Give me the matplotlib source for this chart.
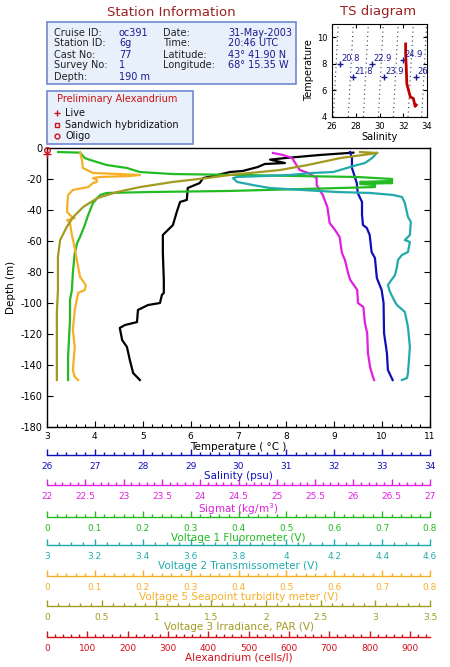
import matplotlib.pyplot as plt
from matplotlib.patches import Rectangle
from matplotlib.ticker import MultipleLocator
import numpy as np

plt.rcParams['font.family'] = ['DejaVu Sans']

W, H = 450, 667

# ---- profile data (depth in m, value in axis units) ----
temp_depth = [-3.0, -4.5, -6.5, -7.5, -9.7, -10.3, -12.3, -14.8, -15.5, -18.1, -19.4, -22.6,
              -25.8, -33.5, -34.8, -41.3, -49.7, -56.1, -67.7, -85.2, -93.5, -94.8, -100.0,
              -101.3, -104.5, -112.3, -114.2, -116.1, -123.9, -128.4, -136.8, -145.2, -149.7]
temp = [9.40, 8.70, 7.97, 7.66, 7.97, 7.55, 7.40, 7.09, 6.82, 6.47, 6.26, 6.19,
        5.94, 5.92, 5.78, 5.71, 5.63, 5.42, 5.42, 5.44, 5.44, 5.40, 5.36,
        5.11, 4.90, 4.88, 4.63, 4.52, 4.57, 4.67, 4.73, 4.80, 4.94]

sal_depth = [-2.6, -6.5, -12.9, -18.7, -22.6, -29.0, -34.8, -43.2, -49.7, -51.6, -56.1,
             -67.1, -71.0, -83.9, -91.6, -100.0, -119.4, -132.3, -143.2, -148.4, -149.7]
sal = [32.33, 32.37, 32.37, 32.43, 32.47, 32.49, 32.58, 32.58, 32.60, 32.68, 32.74,
       32.78, 32.85, 32.89, 32.99, 33.03, 33.04, 33.10, 33.12, 33.20, 33.22]

sig_depth = [-3.2, -4.5, -6.5, -9.7, -14.2, -16.1, -19.4, -23.9, -30.3, -38.1, -48.4, -52.9,
             -57.4, -67.7, -72.3, -80.6, -85.2, -91.6, -100.0, -102.6, -112.9, -119.4,
             -132.3, -141.9, -148.4, -149.7]
sigmat = [24.95, 25.08, 25.20, 25.24, 25.30, 25.41, 25.52, 25.52, 25.60, 25.66, 25.69, 25.76,
          25.82, 25.85, 25.89, 25.93, 25.96, 26.05, 26.06, 26.13, 26.15, 26.18,
          26.19, 26.22, 26.26, 26.27]

fl_depth = [-2.6, -3.0, -6.5, -7.7, -11.0, -12.9, -15.5, -16.8, -17.4, -18.1, -18.7, -20.0,
            -21.3, -21.9, -22.6, -23.2, -23.9, -25.2, -26.5, -27.7, -28.4, -29.0, -30.3,
            -35.5, -43.2, -49.7, -57.4, -61.3, -67.7, -80.6, -91.6, -98.1, -111.0, -134.8, -149.7]
fluor = [0.023, 0.069, 0.079, 0.090, 0.125, 0.167, 0.194, 0.263, 0.403, 0.528, 0.648, 0.721,
         0.721, 0.654, 0.721, 0.654, 0.685, 0.685, 0.528, 0.382, 0.215, 0.125, 0.111,
         0.096, 0.086, 0.079, 0.069, 0.063, 0.058, 0.054, 0.052, 0.048, 0.048, 0.044, 0.044]

tr_depth = [-3.2, -6.5, -9.7, -11.0, -12.9, -15.5, -16.1, -17.4, -18.1, -18.7, -19.4, -21.9,
            -23.9, -25.8, -27.1, -28.4, -29.0, -30.3, -31.6, -35.5, -44.5, -47.7, -56.1,
            -59.4, -60.6, -67.1, -69.0, -72.3, -76.8, -81.9, -88.4, -92.9, -99.4, -101.3,
            -105.8, -115.5, -128.4, -145.2, -148.4, -149.7]
trans = [4.378, 4.358, 4.328, 4.295, 4.253, 4.195, 4.111, 4.015, 3.902, 3.794, 3.777, 3.794,
         3.860, 3.931, 4.069, 4.211, 4.349, 4.445, 4.483, 4.495, 4.508, 4.520, 4.516,
         4.495, 4.516, 4.508, 4.483, 4.466, 4.462, 4.454, 4.424, 4.433, 4.454, 4.462,
         4.495, 4.508, 4.516, 4.508, 4.504, 4.483]

tb_depth = [-2.6, -7.7, -12.9, -16.1, -17.4, -18.1, -18.7, -19.4, -20.6, -21.9, -22.6, -25.2,
            -27.1, -30.3, -38.1, -41.3, -44.5, -45.2, -46.5, -48.4, -56.1, -64.5, -73.5,
            -83.2, -88.4, -91.6, -93.5, -104.5, -117.4, -128.4, -143.2, -147.7, -149.7]
turb = [0.069, 0.073, 0.075, 0.096, 0.194, 0.173, 0.111, 0.096, 0.104, 0.104, 0.096, 0.086,
        0.054, 0.044, 0.042, 0.042, 0.052, 0.058, 0.042, 0.048, 0.052, 0.058, 0.063,
        0.069, 0.081, 0.079, 0.065, 0.058, 0.054, 0.058, 0.054, 0.058, 0.065]

par_depth = [-2.6, -3.2, -6.5, -11.0, -14.2, -16.1, -17.4, -19.4, -21.9, -25.2, -28.4, -32.3,
             -38.1, -44.5, -51.0, -59.4, -70.3, -91.6, -106.5, -149.7]
par = [2.86, 3.02, 2.68, 2.38, 2.13, 1.86, 1.67, 1.46, 1.15, 0.85, 0.64, 0.46,
       0.33, 0.24, 0.18, 0.12, 0.10, 0.10, 0.09, 0.09]

# Alexandrium counts (cells/l)
live_depth = [-4.0]
live = [0]
oligo_depth = [-1.0]
oligo = [0]

# ---- TS diagram data ----
ts_sal = [32.2, 32.2, 32.25, 32.3, 32.45, 32.6, 32.85, 33.0, 33.1]
ts_temp = [9.5, 8.8, 7.8, 6.5, 6.0, 5.5, 5.4, 4.8, 4.9]
iso_s_bottom = [26.11, 27.37, 28.64, 29.90, 31.16, 32.40, 33.55]
iso_s_top = [26.53, 27.79, 29.06, 30.32, 31.58, 32.85, 33.97]
iso_lab_s = [26.7, 27.8, 29.4, 30.4, 32.0, 33.1]
iso_lab_t = [8.0, 7.0, 8.0, 7.0, 8.3, 7.0]
iso_labels = ['20.8', '21.8', '22.9', '23.9', '24.9', '26']

# station info
info_keys1 = ['Cruise ID:', 'Station ID:', 'Cast No:', 'Survey No:', 'Depth:']
info_vals1 = ['oc391', '6g', '77', '1', '190 m']
info_keys2 = ['Date:', 'Time:', 'Latitude:', 'Longitude:']
info_vals2 = ['31-May-2003', '20:46 UTC', '43\u00b0 41.90 N', '68\u00b0 15.35 W']

C_SAL = '#1010b8'
C_SIG = '#e020e0'
C_FL = '#22bb22'
C_TR = '#22aaaa'
C_TB = '#f5b027'
C_PAR = '#a29a22'
C_ALX = '#d0101a'
C_TITLE = '#992222'
C_NAVY = '#1a1a90'

fig = plt.figure(figsize=(W / 100, H / 100), dpi=100)
fig.set_facecolor('white')


def ftext(x, y, s, **kw):
    fig.text(x / W, 1 - y / H, s, **kw)


def fbox(x0, y0, x1, y1):
    fig.add_artist(Rectangle((x0 / W, 1 - y1 / H), (x1 - x0) / W, (y1 - y0) / H,
                             transform=fig.transFigure, facecolor='#e8f0fc',
                             edgecolor='#7088d0', lw=1.2))


# station info box
ftext(171, 12, 'Station Information', color=C_TITLE, fontsize=9.5, ha='center', va='center')
fbox(47, 22, 296, 84)
for i, (k, v) in enumerate(zip(info_keys1, info_vals1)):
    y = 32.5 + 11 * i
    ftext(54, y, k, fontsize=7, color='#222222', va='center')
    ftext(119, y, v, fontsize=7, color=C_NAVY, va='center')
for i, (k, v) in enumerate(zip(info_keys2, info_vals2)):
    y = 32.5 + 11 * i
    ftext(163, y, k, fontsize=7, color='#222222', va='center')
    ftext(228, y, v, fontsize=7, color=C_NAVY, va='center')

# alexandrium legend box
fbox(47, 91, 193, 144)
ftext(57, 99.5, 'Preliminary Alexandrium', fontsize=7, color='#cc1111', va='center')
for y, mk, lab in [(113, '+', 'Live'), (125, 's', 'Sandwich hybridization'), (136, 'o', 'Oligo')]:
    fig.add_artist(plt.Line2D([57 / W], [1 - y / H], marker=mk, color=C_ALX, mfc='none',
                              ms=4.5 if mk == '+' else 3.5, mew=1, transform=fig.transFigure))
    ftext(65, y, lab, fontsize=7, color='#111111', va='center')

# ---- main profile axes ----
L, R, T, B = 47, 430, 148, 427
ax = fig.add_axes([L / W, 1 - B / H, (R - L) / W, (B - T) / H])
ax.set_xlim(3, 11)
ax.set_ylim(-180, 0)
ax.yaxis.set_major_locator(MultipleLocator(20))
ax.xaxis.set_major_locator(MultipleLocator(1))
ax.xaxis.set_minor_locator(MultipleLocator(0.2))
ax.tick_params(direction='in', top=True, right=True, labelsize=6.5, length=4, width=0.8)
ax.tick_params(which='minor', direction='in', top=True, length=2.5, width=0.8)
ax.tick_params(axis='y', labelsize=7)
ax.set_yticklabels(['%d' % v for v in ax.get_yticks()])
ax.set_ylabel('Depth (m)', fontsize=7.5, labelpad=3)
ax.set_xlabel('Temperature ( \u00b0C )', fontsize=7.5, labelpad=1)
for s in ax.spines.values():
    s.set_linewidth(1)
ax.plot(temp, temp_depth, color='black', lw=1.6)


def twin(lo, hi):
    a = ax.twiny()
    a.set_xlim(lo, hi)
    a.set_axis_off()
    return a


twin(26, 34).plot(sal, sal_depth, color=C_SAL, lw=1.6)
twin(22, 27).plot(sigmat, sig_depth, color=C_SIG, lw=1.6)
twin(0, 0.8).plot(fluor, fl_depth, color=C_FL, lw=1.6)
twin(3, 4.6).plot(trans, tr_depth, color=C_TR, lw=1.6)
twin(0, 0.8).plot(turb, tb_depth, color=C_TB, lw=1.6)
twin(0, 3.5).plot(par, par_depth, color=C_PAR, lw=1.6)
ax_alx = twin(0, 950)
ax_alx.plot(live, live_depth, '+', color=C_ALX, ms=6, mew=1, clip_on=False)
ax_alx.plot(oligo, oligo_depth, 'o', color=C_ALX, mfc='none', ms=4, mew=1, clip_on=False)

# ---- extra bottom scales ----
scales = [
    (455, 26, 34, 1, 0.2, 'Salinity (psu)', C_SAL, '%g'),
    (485, 22, 27, 0.5, 0.1, 'Sigmat (kg/m$^3$)', C_SIG, '%g'),
    (517, 0, 0.8, 0.1, 0.02, 'Voltage 1 Fluorometer (V)', C_FL, '%g'),
    (545, 3, 4.6, 0.2, 0.05, 'Voltage 2 Transmissometer (V)', C_TR, '%g'),
    (576, 0, 0.8, 0.1, 0.02, 'Voltage 5 Seapoint turbidity meter (V)', C_TB, '%g'),
    (606, 0, 3.5, 0.5, 0.1, 'Voltage 3 Irradiance, PAR (V)', C_PAR, '%g'),
    (637, 0, 950, 100, 20, 'Alexandrium (cells/l)', C_ALX, '%d'),
]
for y, lo, hi, maj, mnr, label, col, fmt in scales:
    a = fig.add_axes([L / W, 1 - y / H, (R - L) / W, 0.0001])
    a.set_xlim(lo, hi)
    a.set_yticks([])
    for side in ['top', 'left', 'right']:
        a.spines[side].set_visible(False)
    a.spines['bottom'].set_color(col)
    a.spines['bottom'].set_linewidth(1)
    a.set_facecolor('none')
    a.xaxis.set_major_locator(MultipleLocator(maj))
    a.xaxis.set_minor_locator(MultipleLocator(mnr))
    a.xaxis.set_major_formatter(plt.FormatStrFormatter(fmt))
    a.tick_params(axis='x', which='major', direction='in', length=4, width=1, color=col,
                  labelcolor=col, labelsize=6.5, pad=5)
    a.tick_params(axis='x', which='minor', direction='in', length=2.5, width=1, color=col)
    a.set_xlabel(label, color=col, fontsize=7.5, labelpad=0)

# ---- TS diagram ----
ftext(378, 12, 'TS diagram', color=C_TITLE, fontsize=9.5, ha='center', va='center')
ts = fig.add_axes([332 / W, 1 - 117 / H, 95 / W, 93 / H])
ts.set_xlim(26, 34)
ts.set_ylim(4, 11)
ts.set_xticks([26, 28, 30, 32, 34])
ts.set_yticks([4, 6, 8, 10])
ts.tick_params(direction='in', labelsize=6, length=3, top=True, right=True)
ts.set_xlabel('Salinity', fontsize=7, labelpad=1)
ts.set_ylabel('Temperature', fontsize=7, labelpad=2)
for s0, s1 in zip(iso_s_bottom, iso_s_top):
    ts.plot([s0, s1], [4, 11], ls=(0, (1, 3)), color='#333366', lw=0.8)
ts.plot(iso_lab_s, iso_lab_t, '+', color=C_NAVY, ms=5, mew=1)
for s, t, lab in zip(iso_lab_s, iso_lab_t, iso_labels):
    ts.annotate(lab, (s, t), xytext=(1, 2), textcoords='offset points', fontsize=6, color=C_NAVY)
ts.plot(ts_sal, ts_temp, color='#c00000', lw=2)

fig.savefig('out.png', dpi=100)
